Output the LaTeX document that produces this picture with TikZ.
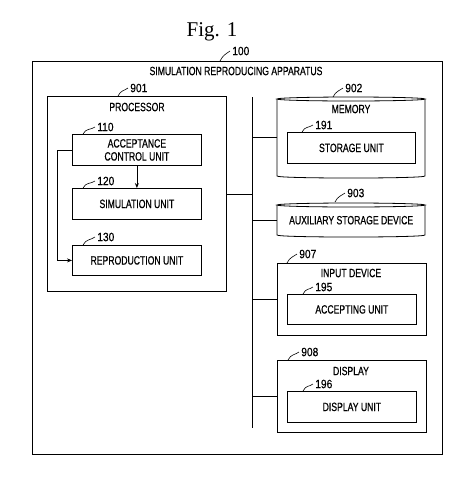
\documentclass[tikz,border=0pt]{standalone}
\usepackage{fontspec}
\setmainfont{Liberation Serif}
\newfontfamily\condfont[FakeStretch=0.72,FakeBold=0.6]{Liberation Sans}
\newfontfamily\numfont[FakeStretch=0.85,FakeBold=0.6]{Liberation Sans}
\usetikzlibrary{arrows.meta}
\tikzset{
  box/.style={draw, line width=0.8pt, inner sep=0pt, anchor=north west},
  hidden/.style={inner sep=0pt, anchor=north west},
  lbl/.style={font=\condfont\fontsize{12}{13}\selectfont, inner sep=0pt, align=center},
  num/.style={font=\numfont\fontsize{12}{13}\selectfont, inner sep=0pt, anchor=west, xshift=2pt},
  lead/.style={line width=0.6pt},
  conn/.style={line width=0.8pt},
  arr/.style={line width=0.8pt, -{Stealth[length=5pt,width=4pt]}}
}
\newcommand\leadr[3]{\draw[lead] (#1) .. controls +(3,-6) and +(-4,3) .. (#2) node[num] {#3};}
\newcommand\mydrum[4]{%
  \draw[conn] (#1,#2+2) -- (#1,#4-2) .. controls (#1,#4+0.7) and (#3,#4+0.7) .. (#3,#4-2) -- (#3,#2+2);
  \draw[conn] ({(#1+#3)/2},#2+2) ellipse [x radius={(#3-#1)/2}, y radius=2];}
\begin{document}
\begin{tikzpicture}[x=1pt,y=-1pt]
\useasboundingbox (0,0) rectangle (474,483);
\node[font=\fontsize{21}{24}\selectfont, inner sep=0pt] (fig) at (212,32) {Fig. 1};

% outer apparatus
\node[box, minimum width=410pt, minimum height=393pt] (app) at (32,61) {};
\node[lbl] (apptxt) at (236,71) {SIMULATION REPRODUCING APPARATUS};
\leadr{220,61}{230,51}{100}

% processor
\node[box, minimum width=179pt, minimum height=195pt] (proc) at (47,96) {};
\node[lbl] (proctxt) at (137,107) {PROCESSOR};
\leadr{118,96}{128,88}{901}
\node[box, minimum width=129pt, minimum height=31pt, lbl] (acc) at (72,134) {ACCEPTANCE\\CONTROL UNIT};
\leadr{83,134}{95,127}{110}
\node[box, minimum width=129pt, minimum height=31pt, lbl] (sim) at (72,188) {SIMULATION UNIT};
\leadr{83,188}{95,181}{120}
\node[box, minimum width=129pt, minimum height=30pt, lbl] (rep) at (72,245) {REPRODUCTION UNIT};
\leadr{83,245}{95,237}{130}
\draw[arr] (acc.south) -- (sim.north);
\draw[arr] (acc.west) -- ++(-15,0) |- (rep.west);

% bus
\coordinate (bustop) at (252,97);
\coordinate (busbot) at (252,428);
\draw[conn] (bustop) -- (busbot);

% memory
\node[hidden, minimum width=148pt, minimum height=81pt] (mem) at (277,97) {};
\mydrum{277}{97}{425}{178}
\node[lbl] (memtxt) at (351,109) {MEMORY};
\leadr{333,97}{343,88}{902}
\node[box, minimum width=128pt, minimum height=31pt, lbl] (stor) at (287,132) {STORAGE UNIT};
\leadr{302,132}{313,125}{191}

% auxiliary storage
\node[hidden, minimum width=148pt, minimum height=34pt, lbl] (aux) at (277,203) {AUXILIARY STORAGE DEVICE};
\mydrum{277}{203}{425}{237}
\leadr{335,202}{345,193}{903}

% input device
\node[box, minimum width=149pt, minimum height=72pt] (inp) at (277,263) {};
\node[lbl] (inptxt) at (351,273) {INPUT DEVICE};
\leadr{287,263}{297,254}{907}
\node[box, minimum width=129pt, minimum height=30pt, lbl] (accu) at (287,294) {ACCEPTING UNIT};
\leadr{303,294}{313,287}{195}

% display
\node[box, minimum width=149pt, minimum height=72pt] (disp) at (277,360) {};
\node[lbl] (disptxt) at (351,371) {DISPLAY};
\leadr{288,360}{299,352}{908}
\node[box, minimum width=129pt, minimum height=31pt, lbl] (dispu) at (287,391) {DISPLAY UNIT};
\leadr{303,391}{313,384}{196}

% bus connections
\draw[conn] (proc.east) -- (proc.east -| bustop);
\draw[conn] (mem.west) -- (mem.west -| bustop);
\draw[conn] (aux.west) -- (aux.west -| bustop);
\draw[conn] (inp.west) -- (inp.west -| bustop);
\draw[conn] (disp.west) -- (disp.west -| bustop);
\end{tikzpicture}
\end{document}
